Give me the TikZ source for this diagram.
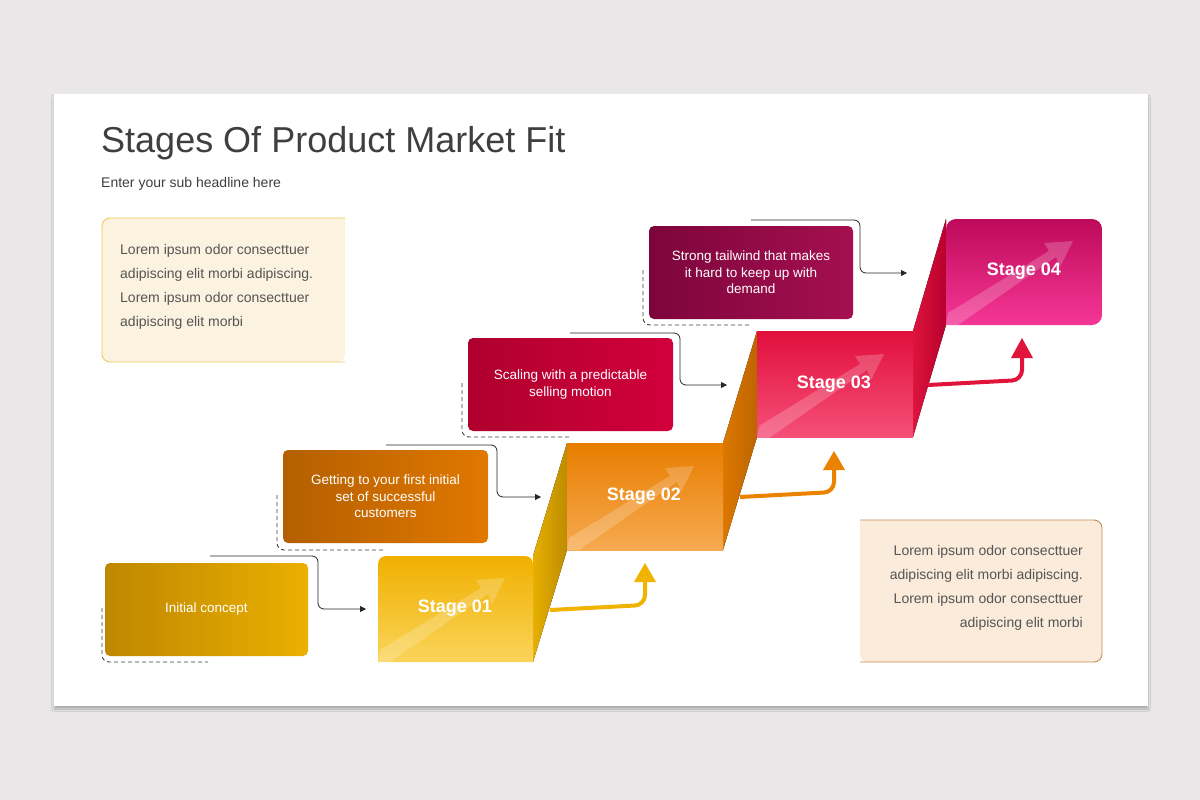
\documentclass[tikz,border=0pt]{standalone}
\usepackage{fontspec}
\setmainfont{Liberation Sans}
\usetikzlibrary{arrows.meta,shadows.blur}
\definecolor{bg}{HTML}{E9E7E8}
\definecolor{tgray}{HTML}{3F3F3F}
\definecolor{bgray}{HTML}{555555}
\definecolor{ygold}{RGB}{240,180,0}
\definecolor{yorng}{RGB}{235,130,0}
\definecolor{yred}{RGB}{225,20,60}
\begin{document}
\begin{tikzpicture}[x=1pt,y=-1pt,
  lbl/.style={rounded corners=5pt,shading angle=225,text=white,align=center,font=\fontsize{13.5}{16.5}\selectfont,inner sep=0pt},
  conn/.style={draw=black!85,line width=0.8pt,rounded corners=6pt,-{Triangle[length=6pt,width=6pt]}},
  dsh/.style={draw=black!75,line width=0.9pt,dash pattern=on 4pt off 3pt,rounded corners=7pt},
  stg/.style={text=white,font=\bfseries\fontsize{18}{20}\selectfont},
  body/.style={text=bgray,font=\fontsize{14}{24}\selectfont,inner sep=0pt}]
\fill[bg] (0,0) rectangle (1200,800);
\useasboundingbox (0,0) rectangle (1200,800);
\fill[white,blur shadow={shadow blur steps=8,shadow xshift=0pt,shadow yshift=-3pt,shadow opacity=25}] (54,94) rectangle (1148,706);
\node[anchor=west,text=tgray,font=\fontsize{36}{40}\selectfont,inner sep=0pt] (title) at (101,143) {Stages Of Product Market Fit};
\node[anchor=west,text=tgray,font=\fontsize{14}{16}\selectfont,inner sep=0pt] (sub) at (101,184) {Enter your sub headline here};
% left text box
\fill[fill={rgb,255:red,251;green,243;blue,223},rounded corners=8pt] (345,218) -- (102,218) -- (102,362) -- (345,362) [sharp corners]-- cycle;
\draw[draw={rgb,255:red,240;green,200;blue,90},line width=0.9pt,rounded corners=8pt] (345,218) -- (102,218) -- (102,362) -- (345,362);
\node[body,anchor=north west,align=left] (lt) at (120,244) {Lorem ipsum odor consecttuer\\adipiscing elit morbi adipiscing.\\Lorem ipsum odor consecttuer\\adipiscing elit morbi};
% right text box
\fill[fill={rgb,255:red,250;green,235;blue,218},rounded corners=8pt] (860,520) -- (1102,520) -- (1102,662) -- (860,662) [sharp corners]-- cycle;
\draw[draw={rgb,255:red,200;green,140;blue,80},line width=0.9pt,rounded corners=8pt] (860,520) -- (1102,520) -- (1102,662) -- (860,662);
\node[body,anchor=north east,align=right] (rt) at (1083,545) {Lorem ipsum odor consecttuer\\adipiscing elit morbi adipiscing.\\Lorem ipsum odor consecttuer\\adipiscing elit morbi};
% side faces
\fill[left color={rgb,255:red,230;green,175;blue,0},right color={rgb,255:red,190;green,140;blue,0}] (533,556) -- (567,443) -- (567,550) -- (533,662) -- cycle;
\fill[left color={rgb,255:red,220;green,120;blue,0},right color={rgb,255:red,190;green,100;blue,0}] (723,443) -- (757,331) -- (757,437) -- (723,550) -- cycle;
\fill[left color={rgb,255:red,220;green,20;blue,60},right color={rgb,255:red,185;green,0;blue,45}] (913,331) -- (946,219) -- (946,325) -- (913,437) -- cycle;
% fronts
\shade[shading angle=225,top color={rgb,255:red,240;green,176;blue,0},bottom color={rgb,255:red,250;green,212;blue,90},rounded corners=8pt] (378,662) -- (378,556) -- (533,556) [sharp corners]-- (533,662) -- cycle;
\shade[shading angle=225,top color={rgb,255:red,232;green,125;blue,0},bottom color={rgb,255:red,246;green,170;blue,80}] (567,443) rectangle (723,550);
\shade[shading angle=225,top color={rgb,255:red,225;green,15;blue,60},bottom color={rgb,255:red,245;green,80;blue,120}] (757,331) rectangle (913,437);
\shade[shading angle=225,top color={rgb,255:red,190;green,10;blue,90},bottom color={rgb,255:red,245;green,55;blue,150},rounded corners=10pt] (946,325) -- (946,219) -- (1102,219) -- (1102,325) [sharp corners]-- cycle;
% translucent arrows
\foreach \dx/\dy in {0/0,189/-112,379/-224,568/-337}{
  \begin{scope}[shift={(\dx,\dy)}]
  \fill[white,opacity=0.2] (380,650) -- (378,662) -- (390,662) -- (488,594) -- (492,604) -- (505,578) -- (476,580) -- (481,588) -- cycle;
  \end{scope}}
\node[stg] (s1) at (455,608) {Stage 01};
\node[stg] (s2) at (644,496) {Stage 02};
\node[stg] (s3) at (834,384) {Stage 03};
\node[stg] (s4) at (1024,271) {Stage 04};
% curved colored arrows
\draw[line width=4pt,draw=ygold,rounded corners=10pt] (550,610) -- (645,605) -- (645,578);
\fill[ygold] (634,582) -- (645,563) -- (656,582) -- cycle;
\draw[line width=4pt,draw=yorng,rounded corners=10pt] (740,497) -- (834,492) -- (834,466);
\fill[yorng] (823,470) -- (834,451) -- (845,470) -- cycle;
\draw[line width=4pt,draw=yred,rounded corners=10pt] (928,385) -- (1022,380) -- (1022,354);
\fill[yred] (1011,358) -- (1022,338) -- (1033,358) -- cycle;
% label boxes
\node[lbl,left color={rgb,255:red,190;green,135;blue,0},right color={rgb,255:red,235;green,176;blue,0},minimum width=203pt,minimum height=93pt] (b1) at (206.5,609.5) {Initial concept};
\node[lbl,left color={rgb,255:red,180;green,95;blue,0},right color={rgb,255:red,225;green,120;blue,0},minimum width=205pt,minimum height=93pt] (b2) at (385.5,496.5) {Getting to your first initial\\set of successful\\customers};
\node[lbl,left color={rgb,255:red,175;green,0;blue,45},right color={rgb,255:red,210;green,0;blue,60},minimum width=205pt,minimum height=93pt] (b3) at (570.5,384.5) {Scaling with a predictable\\selling motion};
\node[lbl,left color={rgb,255:red,125;green,5;blue,60},right color={rgb,255:red,165;green,15;blue,80},minimum width=204pt,minimum height=93pt] (b4) at (751,272.5) {Strong tailwind that makes\\it hard to keep up with\\demand};
% connectors
\coordinate (c1) at (210,556); \coordinate (e1) at (366,609);
\draw[conn] (c1) -- (318,556) -- (318,609) -- (e1);
\coordinate (c2) at (386,445); \coordinate (e2) at (541,497);
\draw[conn] (c2) -- (497,445) -- (497,497) -- (e2);
\coordinate (c3) at (570,333); \coordinate (e3) at (727,385);
\draw[conn] (c3) -- (680,333) -- (680,385) -- (e3);
\coordinate (c4) at (751,220); \coordinate (e4) at (907,273);
\draw[conn] (c4) -- (860,220) -- (860,273) -- (e4);
% dashed
\draw[dsh] (102,608) -- (102,662) -- (208,662);
\draw[dsh] (277,495) -- (277,550) -- (385,550);
\draw[dsh] (462,383) -- (462,437) -- (570,437);
\draw[dsh] (643,270) -- (643,325) -- (750,325);
\end{tikzpicture}
\end{document}
